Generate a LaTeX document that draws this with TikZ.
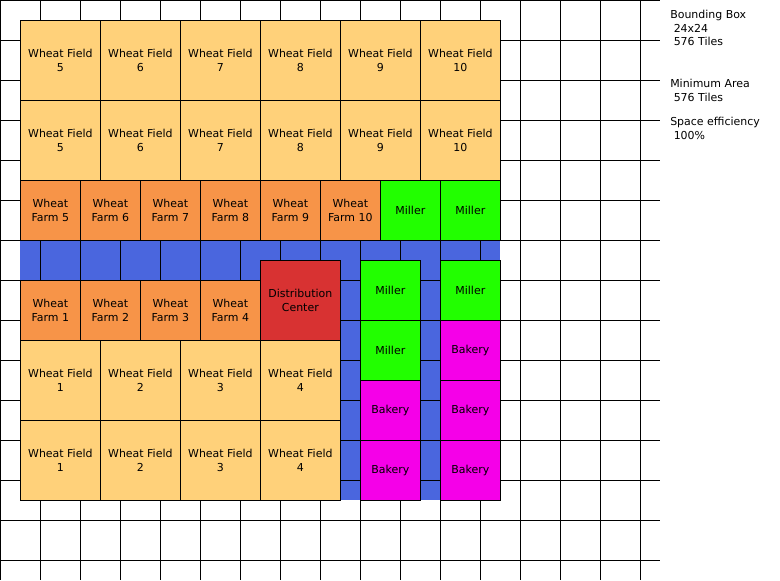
\documentclass[tikz,border=0pt]{standalone}
\usepackage{fontspec}
\setmainfont{DejaVu Sans}
\begin{document}
\begin{tikzpicture}[x=0.5cm,y=-0.5cm,
  bld/.style={draw=black,line width=0.5pt,minimum width=#1,inner sep=0pt,align=center,font=\fontsize{7.8}{9.6}\selectfont,anchor=north west},
  field/.style={fill=fieldc},
  farm/.style={fill=farmc},
  mill/.style={fill=millc},
  bake/.style={fill=bakec},
  road/.style={fill=roadc},
  info/.style={anchor=north west,align=left,inner sep=0pt,font=\fontsize{7.8}{9.6}\selectfont}]
\definecolor{fieldc}{RGB}{255,209,122}
\definecolor{farmc}{RGB}{247,148,72}
\definecolor{millc}{RGB}{34,255,0}
\definecolor{bakec}{RGB}{245,0,232}
\definecolor{roadc}{RGB}{74,102,222}
\definecolor{dcc}{RGB}{216,50,50}
\useasboundingbox (0,0) rectangle (39,29.05);
\fill[white] (0,0) rectangle (39,29.05);
% roads
\fill[roadc] (1,12) rectangle (25,13);
\fill[roadc] (1,13) rectangle (13,14);
\fill[roadc] (17,13) rectangle (18,25);
\fill[roadc] (21,13) rectangle (22,25);
\draw[line width=0.5pt] (0,0) grid (33,29);
% buildings
\newcommand\bldg[6]{\node[bld,#2,minimum width=#3*0.5cm,minimum height=#4*0.5cm] (#1) at (#5) {#6};}
\foreach \n [count=\i from 0] in {5,...,10}{
  \node[bld,field,minimum width=2cm,minimum height=2cm] (ftop\n) at (1+4*\i,1) {Wheat Field\\\n};
  \node[bld,field,minimum width=2cm,minimum height=2cm] (fmid\n) at (1+4*\i,5) {Wheat Field\\\n};
  \node[bld,farm,minimum width=1.5cm,minimum height=1.5cm] (farm\n) at (1+3*\i,9) {Wheat\\Farm \n};
}
\foreach \n [count=\i from 0] in {1,...,4}{
  \node[bld,farm,minimum width=1.5cm,minimum height=1.5cm] (farmb\n) at (1+3*\i,14) {Wheat\\Farm \n};
  \node[bld,field,minimum width=2cm,minimum height=2cm] (fb1\n) at (1+4*\i,17) {Wheat Field\\\n};
  \node[bld,field,minimum width=2cm,minimum height=2cm] (fb2\n) at (1+4*\i,21) {Wheat Field\\\n};
}
\node[bld,fill=dcc,minimum width=2cm,minimum height=2cm] (dc) at (13,13) {Distribution\\Center};
\node[bld,mill,minimum width=1.5cm,minimum height=1.5cm] (m1) at (19,9) {Miller};
\node[bld,mill,minimum width=1.5cm,minimum height=1.5cm] (m2) at (22,9) {Miller};
\node[bld,mill,minimum width=1.5cm,minimum height=1.5cm] (m3) at (18,13) {Miller};
\node[bld,mill,minimum width=1.5cm,minimum height=1.5cm] (m4) at (22,13) {Miller};
\node[bld,mill,minimum width=1.5cm,minimum height=1.5cm] (m5) at (18,16) {Miller};
\node[bld,bake,minimum width=1.5cm,minimum height=1.5cm] (b1) at (22,16) {Bakery};
\node[bld,bake,minimum width=1.5cm,minimum height=1.5cm] (b2) at (18,19) {Bakery};
\node[bld,bake,minimum width=1.5cm,minimum height=1.5cm] (b3) at (22,19) {Bakery};
\node[bld,bake,minimum width=1.5cm,minimum height=1.5cm] (b4) at (18,22) {Bakery};
\node[bld,bake,minimum width=1.5cm,minimum height=1.5cm] (b5) at (22,22) {Bakery};
\node[info] (i1) at (33.5,0.5) {Bounding Box\\\ 24x24\\\ 576 Tiles};
\node[info] (i2) at (33.5,3.95) {Minimum Area\\\ 576 Tiles};
\node[info] (i3) at (33.5,5.85) {Space efficiency\\\ 100\%};
\end{tikzpicture}
\end{document}
